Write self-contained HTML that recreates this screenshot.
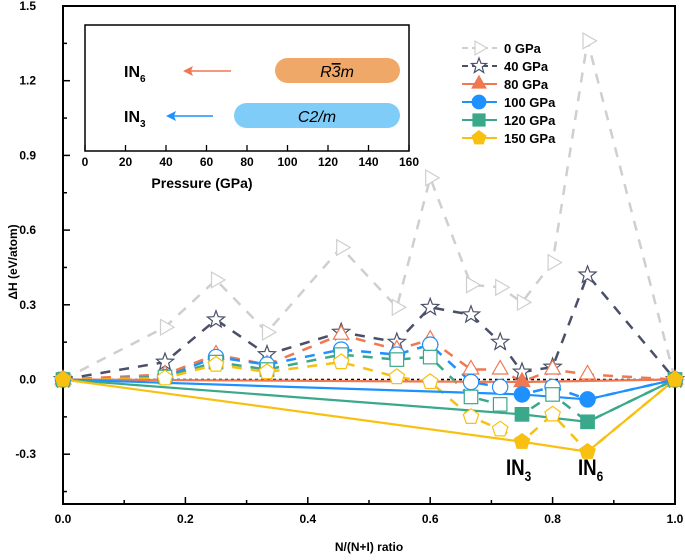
<!DOCTYPE html>
<html><head><meta charset="utf-8"><style>
body{margin:0;background:#fff}
svg text{font-family:"Liberation Sans",Arial,sans-serif;font-weight:bold}
</style></head><body>
<svg id="c" width="685" height="555" viewBox="0 0 685 555" xmlns="http://www.w3.org/2000/svg">
<g id="plot"></g>
<g id="inset">
<rect x="85" y="25" width="324" height="126" fill="#fff" stroke="#000" stroke-width="1.5"/>
<rect x="275" y="58" width="125" height="25" rx="12.5" fill="#F0A868"/>
<text x="337" y="77" font-size="16" text-anchor="middle" font-style="italic" font-weight="normal" style="font-weight:normal">R<tspan text-decoration="overline">3</tspan>m</text>
<rect x="234" y="103" width="166" height="25" rx="12.5" fill="#80CCF8"/>
<text x="317" y="122" font-size="16" text-anchor="middle" font-style="italic" style="font-weight:normal">C2/m</text>
<text x="124" y="77" font-size="16">IN<tspan font-size="10" dy="5">6</tspan></text>
<text x="124" y="122" font-size="16">IN<tspan font-size="10" dy="5">3</tspan></text>
<line x1="231" y1="71" x2="190" y2="71" stroke="#F07850" stroke-width="1.5"/>
<polygon points="183,71 193,66 191,71 193,76" fill="#F07850"/>
<line x1="213" y1="116" x2="173" y2="116" stroke="#1E90FF" stroke-width="1.5"/>
<polygon points="166,116 176,111 174,116 176,121" fill="#1E90FF"/>
<g id="insetTicks"></g>
<text x="202" y="188" font-size="14" text-anchor="middle">Pressure (GPa)</text>
</g>
<g id="legend"></g>
<text x="0" y="0" transform="translate(17,262) rotate(-90)" font-size="12" text-anchor="middle">ΔH (eV/atom)</text>
<text x="369" y="551" font-size="12" text-anchor="middle">N/(N+I) ratio</text>
<text x="506" y="475" font-size="22" transform="scale(0.85,1)" transform-origin="506 475">IN<tspan font-size="14" dy="6">3</tspan></text>
<text x="578" y="475" font-size="22" transform="scale(0.85,1)" transform-origin="578 475">IN<tspan font-size="14" dy="6">6</tspan></text>
</svg>
<script>
const ratios=[0,0.1667,0.25,0.3333,0.4545,0.5455,0.6,0.6667,0.7143,0.75,0.8,0.8571,1];
const seriesNames=["0 GPa","40 GPa","80 GPa","100 GPa","120 GPa","150 GPa"];
const s0=[0,0.21,0.40,0.19,0.53,0.29,0.81,0.38,0.37,0.31,0.47,1.36,0];
const s40=[0,0.07,0.24,0.10,0.19,0.15,0.29,0.26,0.15,0.03,0.05,0.42,0];
const s80=[0,0.02,0.10,0.06,0.18,0.12,0.16,0.04,0.04,-0.01,0.04,0.02,0];
const s100=[0,0.01,0.09,0.06,0.12,0.10,0.14,-0.01,-0.03,-0.06,-0.03,-0.08,0];
const s120=[0,0.01,0.07,0.04,0.10,0.08,0.09,-0.07,-0.10,-0.14,-0.06,-0.17,0];
const s150=[0,0.005,0.06,0.03,0.07,0.01,-0.01,-0.15,-0.20,-0.25,-0.14,-0.29,0];
const hull80=[0,9,12];
const hull100=[0,9,11,12];
const hull120=[0,9,11,12];
const hull150=[0,9,11,12];
const xTicks=[0,0.2,0.4,0.6,0.8,1.0];
const yTicks=[-0.3,0,0.3,0.6,0.9,1.2,1.5];
const insetTicks=[0,20,40,60,80,100,120,140,160];

const NS="http://www.w3.org/2000/svg";
const X0=63,X1=675,YT=6,YB=504,YMIN=-0.5,YMAX=1.5;
const xs=v=>X0+(v)*(X1-X0);
const ys=v=>YB-(v-YMIN)/(YMAX-YMIN)*(YB-YT);
const plot=document.getElementById('plot');
function mk(t,a,p){const e=document.createElementNS(NS,t);for(const k in a)e.setAttribute(k,a[k]);(p||plot).appendChild(e);return e;}

const colors=["#cfcfcf","#4a5068","#F07850","#1E90FF","#3AA88A","#F8C010"];
const shapes=["tri","star","up","circ","sq","pent"];
const data=[s0,s40,s80,s100,s120,s150];
const hulls=[null,null,hull80,hull100,hull120,hull150];

function marker(shape,cx,cy,col,filled,r,parent){
  const f=filled?col:"#fff";let e;
  const poly=(n,rot,rr)=>{let p=[];for(let i=0;i<n;i++){const a=rot+i*2*Math.PI/n;p.push((cx+rr*Math.cos(a)).toFixed(1)+","+(cy+rr*Math.sin(a)).toFixed(1));}return p.join(" ");};
  if(shape==="circ")e=mk('circle',{cx:cx,cy:cy,r:r*0.85,fill:f,stroke:col,'stroke-width':1.2},parent);
  else if(shape==="sq")e=mk('rect',{x:cx-r*0.75,y:cy-r*0.75,width:r*1.5,height:r*1.5,fill:f,stroke:col,'stroke-width':1.2},parent);
  else if(shape==="up")e=mk('polygon',{points:poly(3,-Math.PI/2,r),fill:f,stroke:col,'stroke-width':1.2},parent);
  else if(shape==="tri")e=mk('polygon',{points:poly(3,0,r),fill:f,stroke:col,'stroke-width':1.2},parent);
  else if(shape==="pent")e=mk('polygon',{points:poly(5,-Math.PI/2,r*0.9),fill:f,stroke:col,'stroke-width':1.2},parent);
  else{let p=[];for(let i=0;i<10;i++){const a=-Math.PI/2+i*Math.PI/5,rr=i%2?r*0.42:r;p.push((cx+rr*Math.cos(a)).toFixed(1)+","+(cy+rr*Math.sin(a)).toFixed(1));}
    e=mk('polygon',{points:p.join(" "),fill:f,stroke:col,'stroke-width':1.2},parent);}
  return e;
}

// frame
const fr=mk('rect',{x:X0,y:YT,width:X1-X0,height:YB-YT,fill:'none',stroke:'#000','stroke-width':2});


// ticks
for(let v=0;v<=1.0001;v+=0.1){const x=xs(v);const big=Math.round(v*10)%2===0;mk('line',{x1:x,x2:x,y1:YB,y2:YB-(big?7:4),stroke:'#000','stroke-width':1.5});}
xTicks.forEach(v=>{const t=mk('text',{x:xs(v),y:YB+19,'font-size':12,'text-anchor':'middle'});t.textContent=v.toFixed(1);

});
for(let v=-0.45;v<=1.5;v+=0.15){const y=ys(v);const big=Math.abs(Math.round(v/0.15))%2===0;mk('line',{x1:X0,x2:X0+(big?7:4),y1:y,y2:y,stroke:'#000','stroke-width':1.5});}
yTicks.forEach(v=>{const t=mk('text',{x:36,y:ys(v)+4,'font-size':12,'text-anchor':'end'});t.textContent=v.toFixed(1);

});

// zero dotted line
mk('line',{x1:X0,x2:X1,y1:ys(0),y2:ys(0),stroke:'#000','stroke-width':1.5,'stroke-dasharray':'3,3'});

// dashed series lines
data.forEach((d,i)=>{
  const pts=d.map((v,j)=>xs(ratios[j])+","+ys(v)).join(" ");
  const l=mk('polyline',{points:pts,fill:'none',stroke:colors[i],'stroke-width':2.5,'stroke-dasharray':'10,9'});
  
  
});
// hulls
hulls.forEach((h,i)=>{if(!h)return;
  const pts=h.map(j=>xs(ratios[j])+","+ys(data[i][j])).join(" ");
  const l=mk('polyline',{points:pts,fill:'none',stroke:colors[i],'stroke-width':2.2});
  
  
});
// markers
data.forEach((d,i)=>{
  d.forEach((v,j)=>{
    const onHull=hulls[i]&&hulls[i].includes(j);
    const m=marker(shapes[i],xs(ratios[j]),ys(v),colors[i],onHull||j===0||j===12,9);
    
    
  });
});

// legend
const lg=document.getElementById('legend');
seriesNames.forEach((n,i)=>{
  const y=48+i*18;
  mk('line',{x1:462,x2:497,y1:y,y2:y,stroke:colors[i],'stroke-width':2,'stroke-dasharray':i<2?'6,4':''},lg);
  marker(shapes[i],479,y,colors[i],i>=2,8,lg);
  const t=mk('text',{x:504,y:y+5,'font-size':13},lg);t.textContent=n;
  
  
});

// inset ticks
const it=document.getElementById('insetTicks');
insetTicks.forEach(v=>{const x=85+v/160*324;
  mk('line',{x1:x,x2:x,y1:151,y2:145,stroke:'#000','stroke-width':1.3},it);
  const t=mk('text',{x:x,y:166,'font-size':12,'text-anchor':'middle'},it);t.textContent=v;
  
  
});
</script>
</body></html>
